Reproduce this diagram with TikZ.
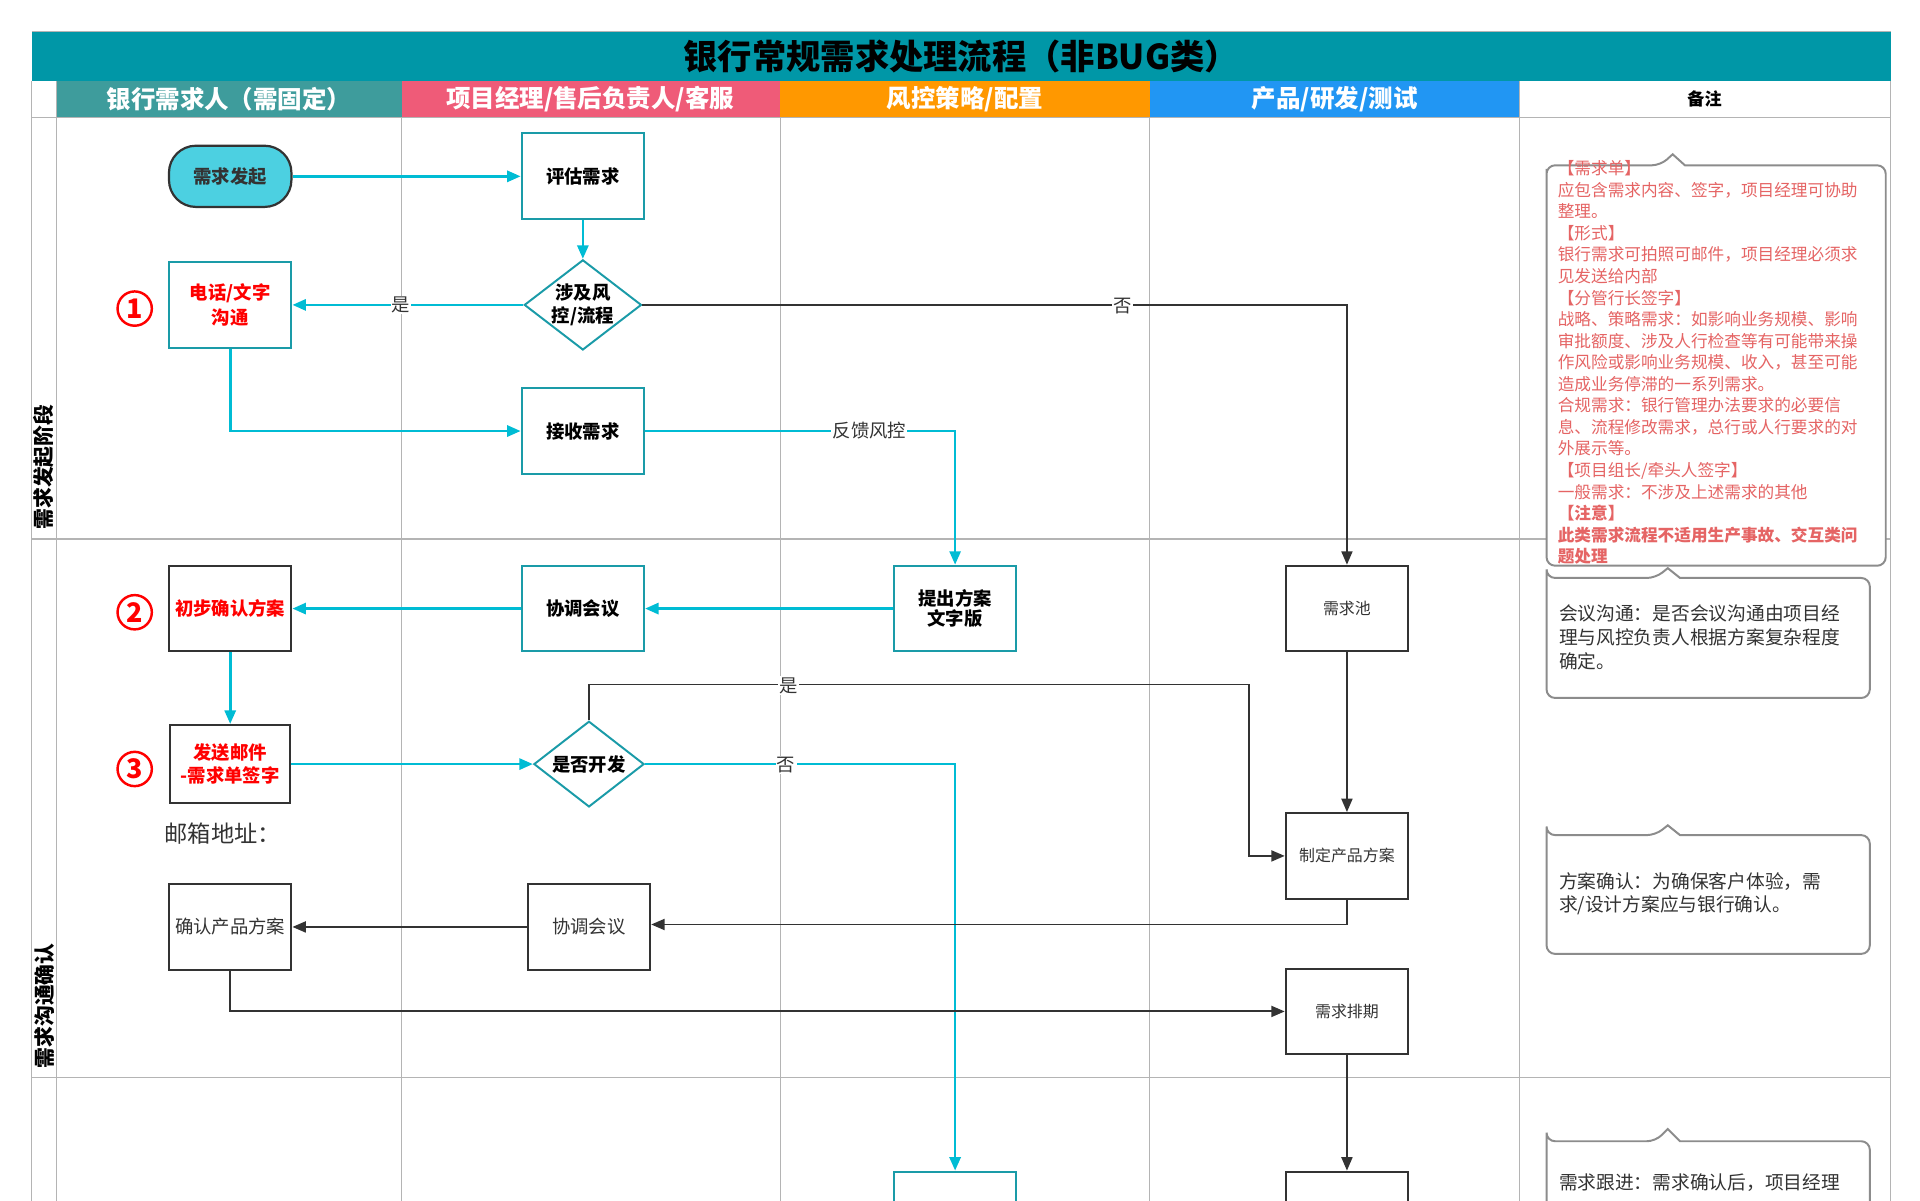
\documentclass[tikz,border=0pt]{standalone}
\usepackage{fontspec}
\setmainfont{Noto Sans CJK SC}
\usetikzlibrary{arrows.meta,shapes.geometric,positioning}
\definecolor{titlebg}{RGB}{0,151,167}
\definecolor{laneA}{RGB}{62,156,156}
\definecolor{laneB}{RGB}{239,91,120}
\definecolor{laneC}{RGB}{255,152,0}
\definecolor{laneD}{RGB}{33,150,243}
\definecolor{cy}{RGB}{0,188,212}
\definecolor{tealb}{RGB}{26,155,168}
\definecolor{dk}{RGB}{51,51,51}
\definecolor{grid}{RGB}{180,180,180}
\definecolor{notered}{RGB}{229,100,100}
\definecolor{notegray}{RGB}{140,140,140}
\begin{document}
\begin{tikzpicture}[x=1pt,y=-1pt,
  tbox/.style={draw=tealb,line width=1.6pt,fill=white,minimum width=100pt,minimum height=70pt,font=\fontsize{15}{17}\selectfont\bfseries,align=center,text width=90pt},
  dbox/.style={draw=dk,line width=1.6pt,fill=white,minimum width=100pt,minimum height=70pt,font=\fontsize{13}{19}\selectfont,text=dk,align=center,text width=92pt},
  redt/.style={text=red,font=\fontsize{15}{20}\selectfont\bfseries},
  dia/.style={diamond,aspect=1.3,draw=tealb,line width=1.6pt,fill=white,inner sep=0pt,minimum width=90pt,minimum height=70pt,font=\fontsize{15}{19}\selectfont\bfseries,align=center},
  carr/.style={cy,line width=2.2pt,-{Triangle[length=11pt,width=9pt]}},
  darr/.style={dk,line width=1.6pt,-{Triangle[length=11pt,width=9pt]}},
  lbl/.style={fill=white,inner sep=1pt,font=\fontsize{15}{15}\selectfont,text=dk},
  num/.style={circle,draw=red,line width=2pt,text=red,inner sep=0pt,minimum size=28pt,font=\fontsize{22}{22}\selectfont\bfseries},
  note/.style={draw=notegray,line width=1.6pt,rounded corners=7pt,fill=white},
  notetxt/.style={anchor=north west,align=left,inner sep=0pt}
]
\useasboundingbox (0,0) rectangle (1568,980);
\clip (0,0) rectangle (1568,980);
\fill[white] (0,0) rectangle (1568,980);
% title & headers
\fill[titlebg] (26,26) rectangle (1544,66);
\draw[grid,line width=1pt] (26,26) -- (1544,26);
\node (title) at (785,46) {\fontsize{28}{28}\selectfont\bfseries 银行常规需求处理流程（非BUG类）};
\fill[laneA] (46,66) rectangle (328,96);
\fill[laneB] (328,66) rectangle (637,96);
\fill[laneC] (637,66) rectangle (939,96);
\fill[laneD] (939,66) rectangle (1241,96);
\node[text=white] (hA) at (187,81) {\fontsize{20}{20}\selectfont\bfseries 银行需求人（需固定）};
\node[text=white] (hB) at (482,81) {\fontsize{20}{20}\selectfont\bfseries 项目经理/售后负责人/客服};
\node[text=white] (hC) at (788,81) {\fontsize{20}{20}\selectfont\bfseries 风控策略/配置};
\node[text=white] (hD) at (1090,81) {\fontsize{20}{20}\selectfont\bfseries 产品/研发/测试};
\node (hE) at (1392,81) {\fontsize{14}{14}\selectfont\bfseries 备注};
% grid
\draw[grid,line width=0.8pt] (26,66) -- (26,990) (46,66) -- (46,990) (328,96) -- (328,990) (637,96) -- (637,990) (939,96) -- (939,990) (1241,66) -- (1241,990) (1544,66) -- (1544,990);
\draw[grid,line width=1.4pt] (26,96) -- (1544,96) (26,440) -- (1544,440) (26,880) -- (1544,880);
\node[rotate=90,anchor=west] (ph1) at (36,436) {\fontsize{17}{17}\selectfont\bfseries 需求发起阶段};
\node[rotate=90,anchor=west] (ph2) at (36,876) {\fontsize{17}{17}\selectfont\bfseries 需求沟通确认};
% nodes
\node[draw=dk,line width=1.8pt,fill=cy!70!white,rounded corners=22pt,minimum width=100pt,minimum height=50pt,font=\fontsize{15}{15}\selectfont\bfseries,text=dk] (start) at (188,144) {需求发起};
\node[tbox] (eval) at (476,144) {评估需求};
\node[dia] (risk) at (476,249) {涉及风\\控/流程};
\node[tbox,redt] (phone) at (188,249) {电话/文字\\沟通};
\node[num] (n1) at (110,252) {1};
\node[tbox] (recv) at (476,352) {接收需求};
\node[tbox] (plan) at (780,497) {提出方案\\文字版};
\node[tbox] (meet1) at (476,497) {协调会议};
\node[dbox,redt,text=red] (confirm1) at (188,497) {初步确认方案};
\node[num] (n2) at (110,500) {2};
\node[dbox] (pool) at (1100,497) {需求池};
\node[dbox,redt,text=red,minimum width=98pt,minimum height=64pt,text width=88pt,font=\fontsize{15}{19}\selectfont\bfseries] (mail) at (188,624) {发送邮件\\-需求单签字};
\node[num] (n3) at (110,628) {3};
\node[dia] (dev) at (481,624) {是否开发};
\node[text=dk] (addr) at (182,681) {\fontsize{19}{19}\selectfont 邮箱地址：};
\node[dbox] (prod) at (1100,699) {制定产品方案};
\node[dbox,font=\fontsize{15}{20}\selectfont] (confirm2) at (188,757) {确认产品方案};
\node[dbox,font=\fontsize{15}{20}\selectfont] (meet2) at (481,757) {协调会议};
\node[dbox] (sched) at (1100,826) {需求排期};
\node[tbox,anchor=north] (bot1) at (780,956) {};
\node[dbox,anchor=north] (bot2) at (1100,956) {};
% edges
\draw[carr] (start) -- (eval);
\draw[carr] (eval) -- (risk);
\draw[carr] (risk) -- node[lbl,pos=0.53]{是} (phone);
\coordinate (c1) at (1100,249);
\draw[darr] (risk.east) -- (c1) -- (pool.north);
\node[lbl] (no1) at (917,250) {否};
\draw[carr] (phone.south) |- (recv.west);
\coordinate (c2) at (780,352);
\draw[carr] (recv.east) -- (c2) -- (plan.north);
\node[lbl] (fb) at (710,352) {反馈风控};
\draw[carr] (plan) -- (meet1);
\draw[carr] (meet1) -- (confirm1);
\draw[carr] (confirm1) -- (mail);
\draw[carr] (mail) -- (dev);
\coordinate (c3) at (481,559);
\coordinate (c4) at (1020,559);
\draw[darr] (dev.north) -- (c3) -- (c4) |- (prod.west);
\node[lbl] (yes2) at (644,560) {是};
\coordinate (c5) at (780,624);
\draw[carr] (dev.east) -- (c5) -- (bot1.north);
\node[lbl] (no2) at (642,625) {否};
\draw[darr] (pool) -- (prod);
\draw[darr] (prod.south) |- ([yshift=2pt]meet2.east);
\draw[darr] (meet2) -- (confirm2);
\draw[darr] (confirm2.south) |- (sched.west);
\draw[darr] (sched) -- (bot2);
% notes
\draw[note] (1263,462) -- (1263,145) [rounded corners=7pt] -- (1263,135) -- (1356,135) [sharp corners] -- (1366,126) -- (1376,135) [rounded corners=7pt] -- (1540,135) -- (1540,462) -- cycle;
\node[notetxt,text=notered,font=\fontsize{13.6}{17.6}\selectfont] (t1) at (1272,131) {【需求单】\\应包含需求内容、签字，项目经理可协助\\整理。\\【形式】\\银行需求可拍照可邮件，项目经理必须求\\见发送给内部\\【分管行长签字】\\战略、策略需求：如影响业务规模、影响\\审批额度、涉及人行检查等有可能带来操\\作风险或影响业务规模、收入，甚至可能\\造成业务停滞的一系列需求。\\合规需求：银行管理办法要求的必要信\\息、流程修改需求，总行或人行要求的对\\外展示等。\\【项目组长/牵头人签字】\\一般需求：不涉及上述需求的其他\\{\bfseries 【注意】}\\{\bfseries 此类需求流程不适用生产事故、交互类问}\\{\bfseries 题处理}};
\draw[note] (1263,570) -- (1263,472) [rounded corners=7pt] -- (1263,472) -- (1352,472) [sharp corners] -- (1362,464) -- (1372,472) [rounded corners=7pt] -- (1527,472) -- (1527,570) -- cycle;
\node[notetxt,text=dk,font=\fontsize{15.3}{19.5}\selectfont] (t2) at (1273,494) {会议沟通：是否会议沟通由项目经\\理与风控负责人根据方案复杂程度\\确定。};
\draw[note] (1263,779) -- (1263,682) [rounded corners=7pt] -- (1263,682) -- (1352,682) [sharp corners] -- (1362,674) -- (1372,682) [rounded corners=7pt] -- (1527,682) -- (1527,779) -- cycle;
\node[notetxt,text=dk,font=\fontsize{15.3}{19.5}\selectfont] (t3) at (1273,712) {方案确认：为确保客户体验，需\\求/设计方案应与银行确认。};
\draw[note] (1263,1000) -- (1263,932) [rounded corners=7pt] -- (1263,932) -- (1352,932) [sharp corners] -- (1362,922) -- (1372,932) [rounded corners=7pt] -- (1527,932) -- (1527,1000);
\node[notetxt,text=dk,font=\fontsize{15.3}{19.5}\selectfont] (t4) at (1273,958) {需求跟进：需求确认后，项目经理};
\end{tikzpicture}
\end{document}
